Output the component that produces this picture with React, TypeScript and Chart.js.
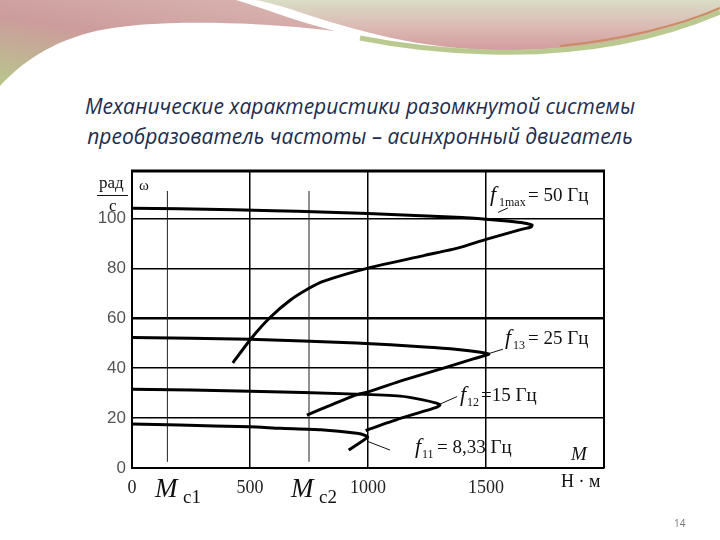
import React, { useEffect, useRef } from 'react';
import { Chart, registerables } from 'chart.js';

Chart.register(...registerables);

// ---- data ----
const xTicks = [0, 500, 1000, 1500];
const yTicks = [0, 20, 40, 60, 80, 100];
const xMin = 0;
const xMax = 2000;
const yMin = 0;
const yMax = 119;

// f1max = 50 Гц
const f50M = [0, 200, 430, 600, 800, 1000, 1200, 1400, 1500, 1600, 1660, 1695, 1690, 1650, 1500, 1380, 1240, 1000, 810, 750, 670, 585, 505, 427];
const f50W = [104.1, 103.9, 103.5, 103.1, 102.6, 102.0, 101.2, 100.4, 99.7, 98.9, 98.2, 97.3, 96.5, 95.6, 91.6, 88.1, 85.2, 80.1, 74.8, 72.0, 67.2, 60.3, 51.9, 42.1];
// f13 = 25 Гц
const f25M = [0, 500, 950, 1240, 1380, 1470, 1512, 1450, 1320, 1150, 1000, 950, 850, 741];
const f25W = [52.3, 51.6, 50.1, 48.5, 47.5, 46.5, 45.6, 43.8, 40.0, 35.2, 30.5, 29.3, 25.5, 21.2];
// f12 = 15 Гц
const f15M = [0, 500, 950, 1137, 1222, 1290, 1305, 1290, 1137, 1000, 990];
const f15W = [31.6, 30.8, 29.6, 28.8, 27.5, 26.0, 25.2, 24.3, 19.9, 15.4, 15.0];
// f11 = 8,33 Гц
const f8M = [0, 200, 500, 628, 800, 953, 990, 998, 918];
const f8W = [17.6, 17.2, 16.5, 15.9, 15.3, 13.9, 13.0, 12.3, 7.2];
// static load torques
const mcValues = [150, 750];
const mcSpan = [2.5, 111];

const titleLines = [
  'Механические характеристики разомкнутой системы',
  'преобразователь частоты – асинхронный двигатель',
];

const toPts = (m: number[], w: number[]) => m.map((v, i) => ({ x: v, y: w[i] }));

const SERIF = '"Liberation Serif", "DejaVu Serif", serif';

const labelsPlugin = {
  id: 'labels',
  afterDraw(chart: any) {
    const ctx = chart.ctx as CanvasRenderingContext2D;
    const { left, right, top, bottom } = chart.chartArea;
    const sx = chart.scales.x;
    const sy = chart.scales.y;
    ctx.save();
    // frame: top and right
    ctx.strokeStyle = '#000';
    ctx.lineWidth = 3;
    ctx.beginPath();
    ctx.moveTo(left - 1, top);
    ctx.lineTo(right + 1, top);
    ctx.stroke();
    ctx.lineWidth = 2;
    ctx.beginPath();
    ctx.moveTo(right, top);
    ctx.lineTo(right, bottom);
    ctx.stroke();

    // leader lines (data units)
    const leaders = [
      [1551, 102.4, 1593, 104.2],
      [1504, 45.6, 1572, 47.6],
      [1305, 25.6, 1377, 28.6],
      [1000, 10.6, 1093, 7.2],
    ];
    ctx.lineWidth = 1;
    ctx.strokeStyle = '#111';
    leaders.forEach(([a, b, c, d]) => {
      ctx.beginPath();
      ctx.moveTo(sx.getPixelForValue(a), sy.getPixelForValue(b));
      ctx.lineTo(sx.getPixelForValue(c), sy.getPixelForValue(d));
      ctx.stroke();
    });

    ctx.fillStyle = '#111';
    ctx.textBaseline = 'alphabetic';
    ctx.textAlign = 'left';
    const fLabel = (x: number, y: number, sub: string, subX: number, rest: string, restX: number) => {
      ctx.font = `italic 22px ${SERIF}`;
      ctx.fillText('f', x, y);
      ctx.font = `12px ${SERIF}`;
      ctx.fillText(sub, subX, y + 5);
      ctx.font = `19px ${SERIF}`;
      ctx.fillText(rest, restX, y);
    };
    fLabel(490, 201, '1max', 499, '= 50 Гц', 528);
    fLabel(505, 344, '13', 513, '= 25 Гц', 528);
    fLabel(460, 401, '12', 467, '=15 Гц', 481);
    fLabel(415, 453, '11', 422, '= 8,33 Гц', 437);

    // axis captions
    ctx.font = `17px ${SERIF}`;
    ctx.fillText('рад', 99, 188);
    ctx.fillText('с', 109, 211);
    ctx.lineWidth = 1;
    ctx.beginPath();
    ctx.moveTo(97, 195.5);
    ctx.lineTo(128, 195.5);
    ctx.stroke();
    ctx.font = `15px ${SERIF}`;
    ctx.fillText('ω', 139, 190);

    ctx.font = `italic 19px ${SERIF}`;
    ctx.fillText('M', 571, 460);
    ctx.font = `18px ${SERIF}`;
    ctx.fillText('Н · м', 561, 487);

    ctx.font = `italic 27px ${SERIF}`;
    ctx.fillText('M', 155, 497);
    ctx.fillText('M', 291, 497);
    ctx.font = `19px ${SERIF}`;
    ctx.fillText('с1', 183, 503);
    ctx.fillText('с2', 319, 503);
    ctx.restore();
  },
};

function ChartCanvas() {
  const ref = useRef<HTMLCanvasElement | null>(null);
  useEffect(() => {
    if (!ref.current) return;
    const curve = (m: number[], w: number[]) => ({
      data: toPts(m, w),
      showLine: true,
      borderColor: '#000',
      backgroundColor: '#000',
      borderWidth: 3,
      pointRadius: 0,
      tension: 0.2,
      fill: false,
    });
    const mcSets = mcValues.map((v) => ({
      data: mcSpan.map((w) => ({ x: v, y: w })),
      showLine: true,
      borderColor: '#222',
      borderWidth: 1,
      pointRadius: 0,
      tension: 0,
    }));
    const chart = new Chart(ref.current, {
      type: 'scatter',
      data: {
        datasets: [curve(f50M, f50W), curve(f25M, f25W), curve(f15M, f15W), curve(f8M, f8W), ...mcSets] as any,
      },
      options: {
        animation: false,
        responsive: false,
        devicePixelRatio: 1,
        layout: { padding: { left: 0, top: 171, right: 116, bottom: 30 } },
        plugins: { legend: { display: false }, tooltip: { enabled: false } },
        scales: {
          x: {
            type: 'linear',
            min: xMin,
            max: xMax,
            afterBuildTicks: (s: any) => {
              s.ticks = xTicks.map((v) => ({ value: v }));
            },
            afterFit: (s: any) => {
              s.height = 42;
            },
            grid: {
              color: '#000',
              lineWidth: 1.5,
              drawTicks: false,
            },
            border: { display: true, color: '#000', width: 2 },
            ticks: {
              padding: 9,
              color: '#222',
              font: { family: SERIF, size: 18 },
              maxRotation: 0,
              autoSkip: false,
              callback: (v: any) => String(v),
            },
          },
          y: {
            type: 'linear',
            min: yMin,
            max: yMax,
            afterBuildTicks: (s: any) => {
              s.ticks = yTicks.map((v) => ({ value: v }));
            },
            afterFit: (s: any) => {
              s.width = 132;
            },
            grid: {
              color: '#000',
              lineWidth: (c: any) => (c.tick && c.tick.value === 60 ? 2.5 : 1.5),
              drawTicks: false,
            },
            border: { display: true, color: '#000', width: 2 },
            ticks: {
              padding: 6,
              color: '#555',
              font: { family: '"Liberation Sans", Arial, sans-serif', size: 17 },
              autoSkip: false,
              callback: (v: any) => String(v),
            },
          },
        },
      },
      plugins: [labelsPlugin],
    });
    return () => chart.destroy();
  }, []);
  return (
    <canvas
      ref={ref}
      width={720}
      height={540}
      style={{ position: 'absolute', left: 0, top: 0, width: 720, height: 540 }}
    />
  );
}

function Background() {
  return (
    <svg width={720} height={540} style={{ position: 'absolute', left: 0, top: 0 }}>
      <defs>
        <linearGradient id="lg1" x1="0.7" y1="0" x2="0" y2="1">
          <stop offset="0" stopColor="#d7b1ae" />
          <stop offset="0.45" stopColor="#cc9c9c" />
          <stop offset="1" stopColor="#b7c78c" />
        </linearGradient>
        <linearGradient id="lg2" x1="0" y1="0" x2="0" y2="1">
          <stop offset="0" stopColor="#d9ddc6" />
          <stop offset="0.5" stopColor="#dcbcb5" />
          <stop offset="1" stopColor="#d39c9e" />
        </linearGradient>
      </defs>
      <rect x={0} y={0} width={720} height={540} fill="#ffffff" />
      <path d="M0,0 L236,0 C262,8 292,20 335,31 C262,22 150,18 92,32 C52,42 22,62 0,86 Z" fill="url(#lg1)" />
      <path d="M256,0 L720,0 L720,10 C650,40 570,52 490,50 C420,48 360,32 302,13 C282,6 266,2 256,0 Z" fill="url(#lg2)" />
      <path d="M720,12 C650,42 570,54 490,52 C440,51 400,46 360,38" fill="none" stroke="#bac98f" strokeWidth={5} />
      <path d="M560,46 C620,40 680,26 720,8" fill="none" stroke="#c98b62" strokeWidth={2} />
    </svg>
  );
}

export default function App() {
  return (
    <div style={{ position: 'fixed', left: 0, top: 0, width: 720, height: 540, overflow: 'hidden', background: '#fff' }}>
      <Background />
      <div
        style={{
          position: 'absolute',
          left: 0,
          top: 91,
          width: 720,
          textAlign: 'center',
          fontFamily: '"Open Sans", sans-serif',
          fontStyle: 'italic',
          fontSize: 21,
          lineHeight: '30px',
          color: '#1e2d4c',
        }}
      >
        {titleLines.map((t) => (
          <div key={t}>{t}</div>
        ))}
      </div>
      <ChartCanvas />
      <div
        style={{
          position: 'absolute',
          left: 674,
          top: 516,
          fontFamily: '"Open Sans", sans-serif',
          fontSize: 10,
          color: '#777',
        }}
      >
        14
      </div>
    </div>
  );
}
